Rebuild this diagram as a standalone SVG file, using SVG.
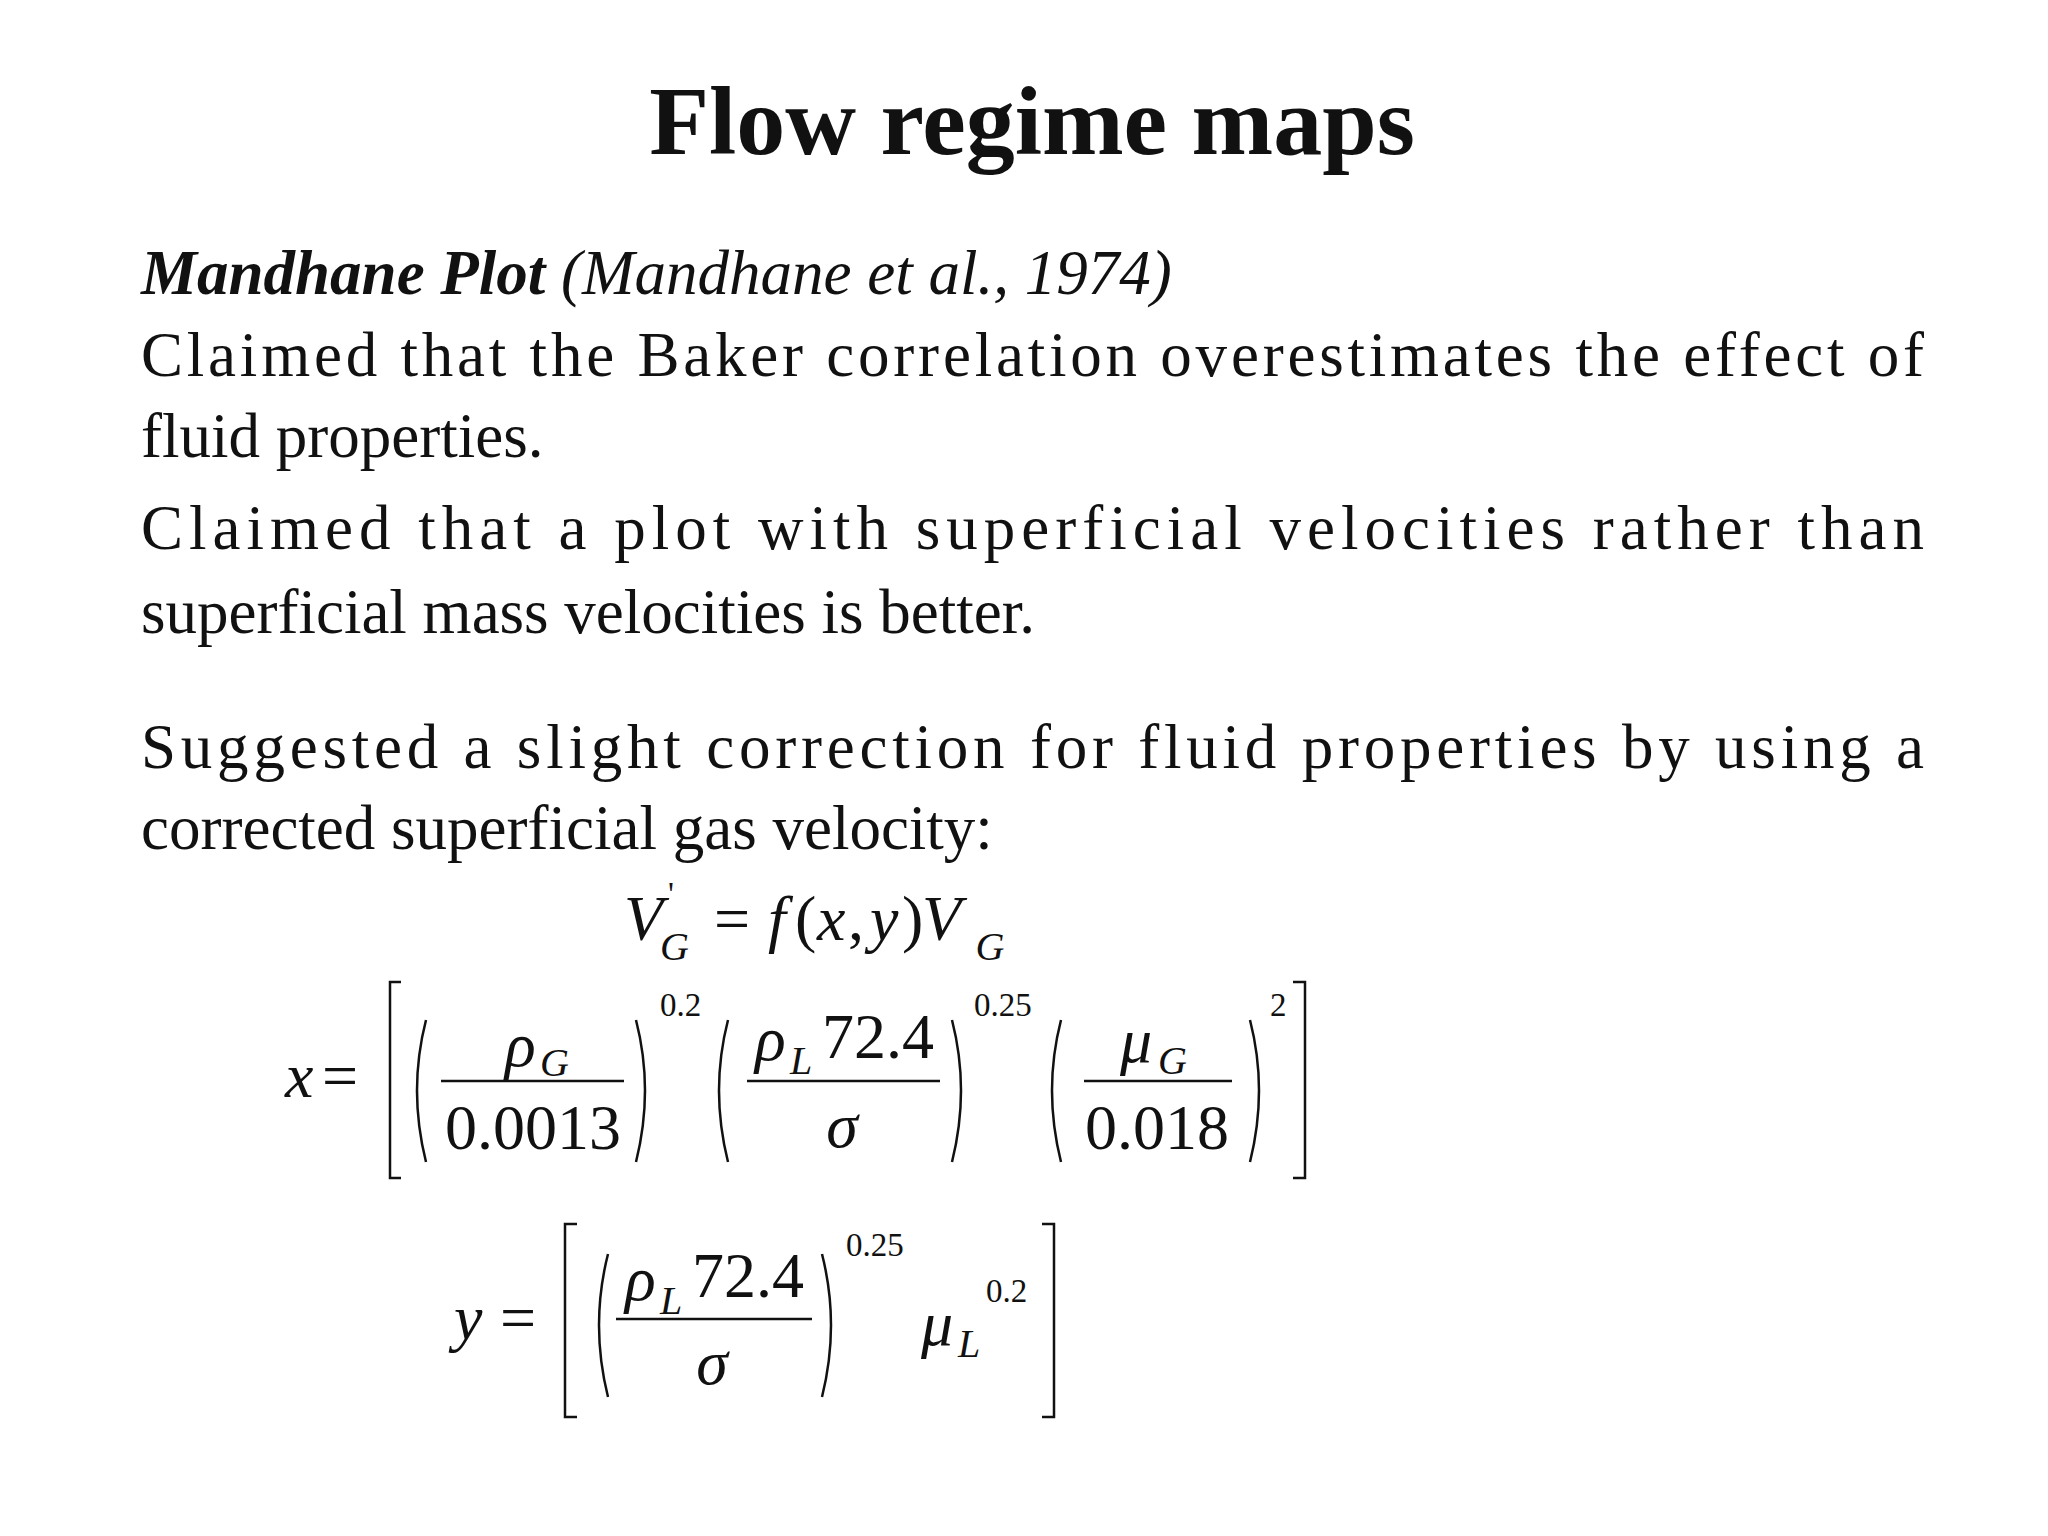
<svg xmlns="http://www.w3.org/2000/svg" width="2048" height="1536" viewBox="0 0 2048 1536">
<style>
text{font-family:"Liberation Serif","Times New Roman",serif;fill:#111}
.b{font-size:63px}
.m{font-size:64px;font-style:italic}
.n{font-size:64px}
.s{font-size:33px}
.sub{font-size:40px;font-style:italic}
.ln{stroke:#111;stroke-width:2.5;fill:none}
</style>
<rect width="2048" height="1536" fill="#fff"/>
<g id="title"><text x="1032" y="154" text-anchor="middle" font-size="98" font-weight="bold">Flow regime maps</text></g>
<g id="body" class="b">
<text class="b" x="141" y="294"><tspan font-weight="bold" font-style="italic">Mandhane Plot</tspan><tspan font-style="italic"> (Mandhane et al., 1974)</tspan></text>
<text class="b" x="141" y="376" textLength="1783" lengthAdjust="spacing">Claimed that the Baker correlation overestimates the effect of</text>
<text class="b" x="141" y="457">fluid properties.</text>
<text class="b" x="141" y="549" textLength="1783" lengthAdjust="spacing">Claimed that a plot with superficial velocities rather than</text>
<text class="b" x="141" y="633">superficial mass velocities is better.</text>
<text class="b" x="141" y="768" textLength="1783" lengthAdjust="spacing">Suggested a slight correction for fluid properties by using a</text>
<text class="b" x="141" y="849">corrected superficial gas velocity:</text>
</g>
<g id="eq1">
<text class="m" x="624" y="940">V</text>
<text class="sub" x="660" y="960">G</text>
<text class="s" x="668" y="905">'</text>
<text class="n" x="714" y="940">=</text>
<text class="m" x="768" y="940">f</text>
<text class="n" x="795" y="940">(</text>
<text class="m" x="817" y="940">x</text>
<text class="n" x="848" y="940">,</text>
<text class="m" x="870" y="940">y</text>
<text class="n" x="902" y="940">)</text>
<text class="m" x="922" y="940">V</text>
<text class="sub" x="990" y="960" text-anchor="middle">G</text>
</g>
<g id="eqx">
<text class="m" x="285" y="1097">x</text>
<text class="n" x="322" y="1097">=</text>
<path class="ln" d="M401 982 H390 V1178 H401"/>
<path class="ln" d="M1293 982 H1305 V1178 H1293"/>
<path class="ln" d="M426 1020 Q408 1090 426 1162"/>
<path class="ln" d="M636 1020 Q654 1090 636 1162"/>
<text class="m" x="505" y="1066">ρ</text><text class="sub" x="540" y="1076">G</text>
<line class="ln" x1="441" y1="1081" x2="624" y2="1081"/>
<text class="n" x="533" y="1149" text-anchor="middle">0.0013</text>
<text class="s" x="660" y="1016">0.2</text>
<path class="ln" d="M728 1020 Q710 1090 728 1162"/>
<path class="ln" d="M952 1020 Q970 1090 952 1162"/>
<text class="m" x="755" y="1060">ρ</text><text class="sub" x="790" y="1074">L</text>
<text class="n" x="822" y="1058">72.4</text>
<line class="ln" x1="747" y1="1081" x2="940" y2="1081"/>
<text class="m" x="842" y="1147" text-anchor="middle">σ</text>
<text class="s" x="974" y="1016">0.25</text>
<path class="ln" d="M1061 1020 Q1043 1090 1061 1162"/>
<path class="ln" d="M1250 1020 Q1268 1090 1250 1162"/>
<text class="m" x="1120" y="1062">μ</text><text class="sub" x="1158" y="1074">G</text>
<line class="ln" x1="1084" y1="1081" x2="1232" y2="1081"/>
<text class="n" x="1157" y="1149" text-anchor="middle">0.018</text>
<text class="s" x="1270" y="1016">2</text>
</g>
<g id="eqy">
<text class="m" x="454" y="1339">y</text>
<text class="n" x="500" y="1339">=</text>
<path class="ln" d="M577 1224 H565 V1417 H577"/>
<path class="ln" d="M1042 1224 H1054 V1417 H1042"/>
<path class="ln" d="M608 1254 Q590 1325 608 1397"/>
<path class="ln" d="M822 1254 Q840 1325 822 1397"/>
<text class="m" x="625" y="1300">ρ</text><text class="sub" x="660" y="1314">L</text>
<text class="n" x="692" y="1297">72.4</text>
<line class="ln" x1="616" y1="1319" x2="812" y2="1319"/>
<text class="m" x="712" y="1384" text-anchor="middle">σ</text>
<text class="s" x="846" y="1256">0.25</text>
<text class="m" x="921" y="1345">μ</text><text class="sub" x="958" y="1357">L</text>
<text class="s" x="986" y="1302">0.2</text>
</g>
</svg>
